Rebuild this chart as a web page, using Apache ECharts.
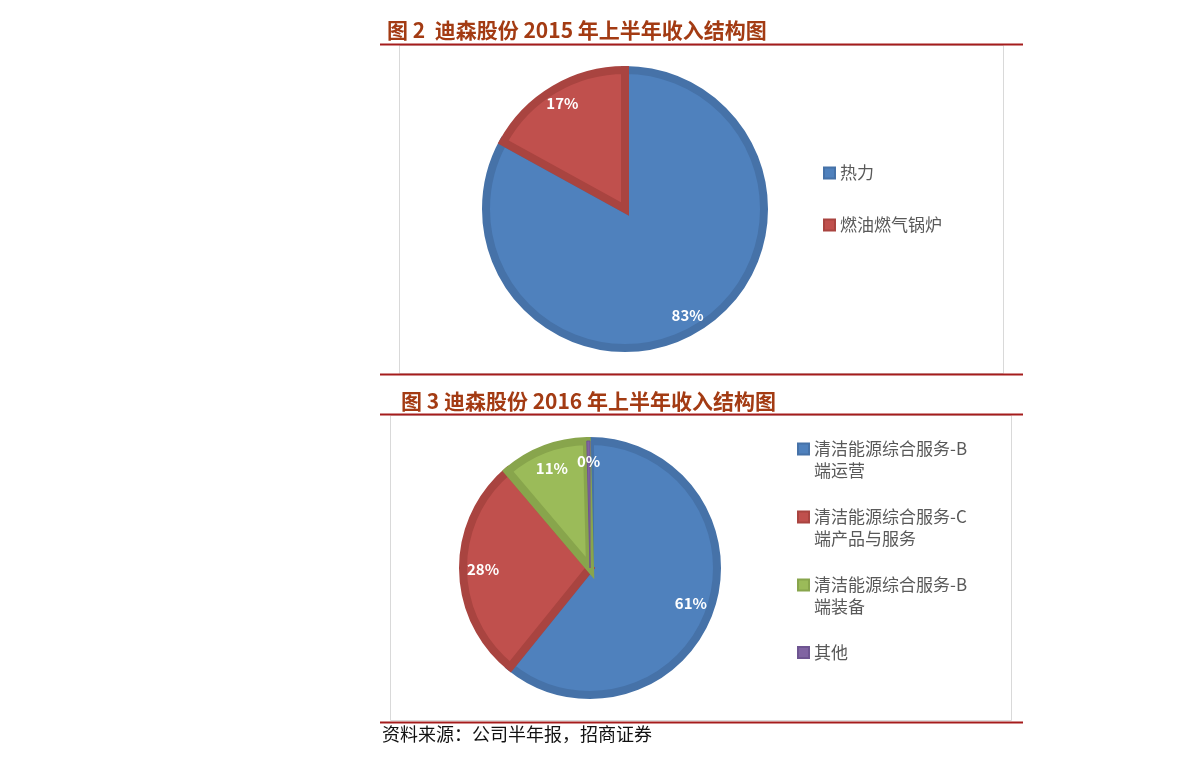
<!DOCTYPE html>
<html>
<head>
<meta charset="utf-8">
<script src="https://cdn.jsdelivr.net/npm/echarts@6/dist/echarts.min.js"></script>
<style>
html,body{margin:0;padding:0;background:#fff;}
#c{width:1191px;height:766px;}
</style>
</head>
<body>
<div id="c"></div>
<script>
// ---- data ----
var title1 = '图 2  迪森股份 2015 年上半年收入结构图';
var title2 = '图 3 迪森股份 2016 年上半年收入结构图';
var source = '资料来源：公司半年报，招商证券';

var cats1 = ['热力', '燃油燃气锅炉'];
var vals1 = [83, 17];

var cats2 = ['清洁能源综合服务-B端运营', '清洁能源综合服务-C端产品与服务', '清洁能源综合服务-B端装备', '其他'];
var vals2 = [60.8, 28.0, 10.8, 0.4];

var fills = ['#4f81bd', '#c0504d', '#9bbb59', '#8064a2'];
var borders = ['#4672a8', '#a94440', '#88a54c', '#6e5591'];

var FONT = '"Noto Sans CJK SC", "Noto Sans", sans-serif';

function mkData(cats, vals) {
  var total = vals.reduce(function (a, b) { return a + b; }, 0);
  return cats.map(function (c, i) {
    var thin = vals[i] / total < 0.02;
    return { name: c, value: vals[i], itemStyle: { color: fills[i], borderColor: borders[i], borderWidth: thin ? 1 : 8 } };
  });
}
function mkLabelData(cats, vals) {
  return cats.map(function (c, i) {
    return { name: c, value: vals[i] };
  });
}

var chart = echarts.init(document.getElementById('c'), null, { renderer: 'canvas' });

function pieSeries(center, r, cats, vals) {
  return {
    type: 'pie',
    center: center,
    radius: r,
    startAngle: 90,
    clockwise: true,
    animation: false,
    silent: true,
    minAngle: 0,
    label: { show: false },
    labelLine: { show: false },
    itemStyle: { borderWidth: 8, borderJoin: 'miter' },
    emphasis: { disabled: true },
    data: mkData(cats, vals)
  };
}
function labelSeries(center, r0, r, cats, vals) {
  return {
    type: 'pie',
    center: center,
    radius: [r0, r],
    startAngle: 90,
    clockwise: true,
    animation: false,
    silent: true,
    percentPrecision: 0,
    legendHoverLink: false,
    itemStyle: { color: 'rgba(0,0,0,0)', borderWidth: 0 },
    label: {
      show: true, position: 'inside', formatter: '{d}%',
      color: '#fff', fontWeight: 'bold', fontSize: 15, fontFamily: FONT
    },
    labelLine: { show: false },
    emphasis: { disabled: true },
    data: mkLabelData(cats, vals)
  };
}

function splitName(name) {
  var i = name.indexOf('-');
  if (i >= 0) {
    return '{a|' + name.slice(0, i + 2) + '}\n{b|' + name.slice(i + 2) + '}';
  }
  return '{c|' + name + '}';
}

var option = {
  backgroundColor: '#fff',
  animation: false,
  title: [
    { text: title1, left: 382, top: 15, textStyle: { fontSize: 21, fontWeight: 'bold', color: '#a33b13', fontFamily: FONT } },
    { text: title2, left: 396, top: 386, textStyle: { fontSize: 21, fontWeight: 'bold', color: '#a33b13', fontFamily: FONT } }
  ],
  legend: [
    {
      data: cats1, orient: 'vertical', left: 823, top: 158, padding: 0,
      itemWidth: 11, itemHeight: 11, itemGap: 22, icon: 'rect', selectedMode: false,
      textStyle: { fontSize: 17, color: '#595959', fontFamily: FONT, lineHeight: 30 }
    },
    {
      data: cats2, orient: 'vertical', left: 797, top: 440, padding: 0,
      itemWidth: 11, itemHeight: 11, itemGap: 29, icon: 'rect', selectedMode: false,
      formatter: splitName,
      textStyle: {
        fontSize: 17, color: '#595959', fontFamily: FONT,
        rich: {
          a: { fontSize: 17, color: '#595959', fontFamily: FONT, lineHeight: 43 },
          b: { fontSize: 17, color: '#595959', fontFamily: FONT, lineHeight: 1 },
          c: { fontSize: 17, color: '#595959', fontFamily: FONT, lineHeight: 44 }
        }
      }
    }
  ],
  graphic: [
    { type: 'rect', shape: { x: 399.5, y: 45.5, width: 604, height: 328 }, style: { fill: 'none', stroke: '#d9d9d9', lineWidth: 1 }, z: 0 },
    { type: 'rect', shape: { x: 390.5, y: 415.5, width: 621, height: 305 }, style: { fill: 'none', stroke: '#d9d9d9', lineWidth: 1 }, z: 0 },
    { type: 'line', shape: { x1: 380, y1: 44.5, x2: 1023, y2: 44.5 }, style: { stroke: '#a51c1c', lineWidth: 2 }, z: 5 },
    { type: 'line', shape: { x1: 380, y1: 374.5, x2: 1023, y2: 374.5 }, style: { stroke: '#a51c1c', lineWidth: 2 }, z: 5 },
    { type: 'line', shape: { x1: 380, y1: 414.5, x2: 1023, y2: 414.5 }, style: { stroke: '#a51c1c', lineWidth: 2 }, z: 5 },
    { type: 'line', shape: { x1: 380, y1: 722.5, x2: 1023, y2: 722.5 }, style: { stroke: '#a51c1c', lineWidth: 2 }, z: 5 },
    { type: 'text', left: 382, top: 725, style: { text: source, fontSize: 18, fill: '#111', fontFamily: FONT }, z: 5 }
  ],
  series: [
    pieSeries([625, 209], 139, cats1, vals1),
    labelSeries([625, 209], 97, 143, cats1, vals1),
    pieSeries([590, 568], 127, cats2, vals2),
    labelSeries([590, 568], 77, 131, cats2, vals2)
  ]
};
chart.setOption(option);
</script>
</body>
</html>
